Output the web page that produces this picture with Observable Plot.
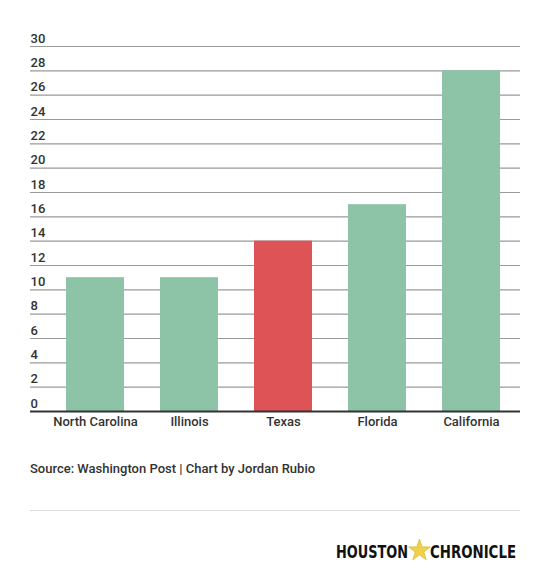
<!DOCTYPE html>
<html>
<head>
<meta charset="utf-8">
<script src="https://cdn.jsdelivr.net/npm/d3@7"></script>
<script src="https://cdn.jsdelivr.net/npm/@observablehq/plot@0.6"></script>
<style>
  html, body { margin: 0; padding: 0; background: #fff; }
  #wrap { position: relative; width: 550px; height: 587px; font-family: Roboto, "Noto Sans", sans-serif; }
  #chart { position: absolute; left: 0; top: 0; }
  #source { position: absolute; left: 30px; top: 461px; font-size: 13px; color: #333; font-weight: 500; }
  #divider { position: absolute; left: 30px; top: 510px; width: 490px; height: 1px; background: #ddd; }
  #logo { position: absolute; left: 330px; top: 529px; overflow: visible; }
</style>
</head>
<body>
<div id="wrap">
  <div id="chart"></div>
  <div id="source">Source: Washington Post | Chart by Jordan Rubio</div>
  <div id="divider"></div>
  <svg id="logo" width="200" height="40">
    <text x="6" y="29" font-family="'Liberation Sans Narrow', 'DejaVu Sans Condensed', sans-serif" font-weight="bold" font-size="18" fill="#111" textLength="72" lengthAdjust="spacingAndGlyphs">HOUSTON</text>
    <polygon id="star" fill="#efd24c" stroke="#d6b02c" stroke-width="0.6"></polygon>
    <text x="100" y="29" font-family="'Liberation Sans Narrow', 'DejaVu Sans Condensed', sans-serif" font-weight="bold" font-size="18" fill="#111" textLength="86" lengthAdjust="spacingAndGlyphs">CHRONICLE</text>
  </svg>
</div>
<script>
const states = ["North Carolina", "Illinois", "Texas", "Florida", "California"];
const values = [11, 11, 14, 17, 28];
const highlight = ["Texas"];
const yTicks = [0, 2, 4, 6, 8, 10, 12, 14, 16, 18, 20, 22, 24, 26, 28, 30];

const data = states.map((s, i) => ({state: s, value: values[i]}));

// logo star shape
(function () {
  const cx = 89.5, cy = 21.5, R = 11.5, r = 4.6;
  const pts = d3.range(10).map(i => {
    const a = -Math.PI / 2 + i * Math.PI / 5;
    const rad = i % 2 === 0 ? R : r;
    return [cx + rad * Math.cos(a), cy + rad * Math.sin(a)].map(v => v.toFixed(2)).join(",");
  });
  document.getElementById("star").setAttribute("points", pts.join(" "));
})();

const chart = Plot.plot({
  width: 550,
  height: 440,
  marginTop: 46,
  marginBottom: 29,
  marginLeft: 30,
  marginRight: 30,
  style: {fontFamily: "Roboto, 'Noto Sans', sans-serif", background: "#fff"},
  x: {domain: states, range: [47, 519], paddingInner: 0.38, paddingOuter: 0.2, label: null},
  y: {domain: [0, 30], label: null, axis: null},
  marks: [
    Plot.ruleY(yTicks.filter(d => d > 0), {stroke: "#9a9a9a", strokeWidth: 1.2}),
    Plot.text(yTicks, {
      y: d => d, text: d => String(d), frameAnchor: "left", textAnchor: "start",
      dy: -8, fontSize: 13, fill: "#333", fontWeight: 500
    }),
    Plot.barY(data, {
      x: "state", y: "value",
      fill: d => highlight.includes(d.state) ? "#dd5356" : "#8dc3a7"
    }),
    Plot.ruleY([0], {stroke: "#333", strokeWidth: 2}),
    Plot.axisX({tickSize: 0, tickPadding: 5, fontSize: 13, fill: "#333", fontWeight: 500, label: null})
  ]
});
document.getElementById("chart").appendChild(chart);
</script>
</body>
</html>
